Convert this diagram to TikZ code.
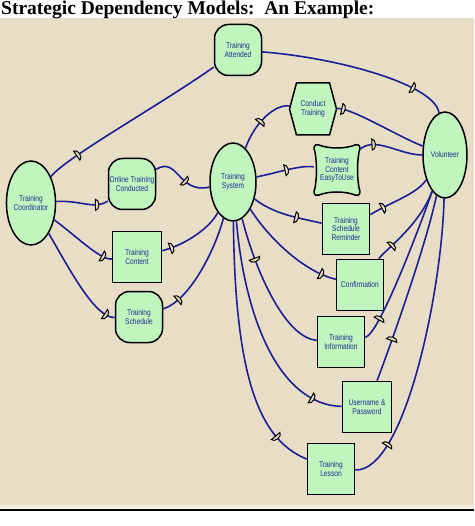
\documentclass[tikz,border=0pt]{standalone}
\usepackage{fontspec}
\usetikzlibrary{shapes.geometric,shapes.symbols,decorations.markings}
\newfontfamily\nodefont{Liberation Sans}[FakeStretch=0.8]
\newfontfamily\titlefont{Liberation Serif}
\definecolor{bg}{RGB}{232,221,197}
\definecolor{ngreen}{RGB}{192,245,190}
\definecolor{lblue}{RGB}{30,30,150}
\definecolor{tblue}{RGB}{30,45,140}
\begin{document}
\begin{tikzpicture}[x=1pt,y=-1pt,
  outl/.style={draw=black,line width=1.5pt,fill=ngreen},
  base/.style={outl,inner sep=0pt,align=center,
    font=\nodefont\fontsize{8.3}{8.8}\selectfont,text=tblue},
  actor/.style={base,ellipse},
  goal/.style={base,rectangle,rounded corners=14pt,minimum width=47pt,minimum height=51pt},
  resource/.style={base,rectangle,minimum width=47pt,minimum height=51pt},
  task/.style={base,signal,signal to=east and west,signal pointer angle=150,minimum width=47pt,minimum height=52pt},
  softtext/.style={base,draw=none,fill=none,rectangle,minimum width=45pt,minimum height=50pt},
  dep/.style={draw=lblue,line width=1.6pt},
  dmk/.style={draw=black,fill=bg,line width=1pt},
  dm/.style={postaction={decorate,decoration={markings,mark=at position #1 with {\draw[dmk] (0pt,-5.5pt) -- (0pt,5.5pt) arc[start angle=90,end angle=-90,x radius=3.5pt,y radius=5.5pt] -- cycle;}}}}
]
\useasboundingbox (0,0) rectangle (474,526);
\fill[white] (0,0) rectangle (474,526);
\fill[bg] (0,18) rectangle (474,505);
\fill[bg!50!white] (0,505) rectangle (474,508);
\draw[black,line width=2pt] (0,510) -- (474,510);
\node[anchor=base west,inner sep=0pt,font=\titlefont\bfseries\fontsize{19.5}{21}\selectfont] (title) at (1,15) {Strategic Dependency Models:\ \ An Example:};

% softgoal outline
\begin{scope}[shift={(337,170)}]
\draw[outl] (-18,-25) .. controls (-8,-21) and (8,-21) .. (18,-25)
  .. controls (23,-27) and (24,-22) .. (22,-18)
  .. controls (20,-6) and (20,6) .. (22,18)
  .. controls (24,22) and (23,27) .. (18,25)
  .. controls (8,21) and (-8,21) .. (-18,25)
  .. controls (-23,27) and (-24,22) .. (-22,18)
  .. controls (-20,6) and (-20,-6) .. (-22,-18)
  .. controls (-24,-22) and (-23,-27) .. (-18,-25) -- cycle;
\end{scope}

% nodes
\node[actor,minimum width=48pt,minimum height=84pt] (tc) at (31,203) {Training\\Coordinator};
\node[actor,minimum width=46pt,minimum height=78pt] (ts) at (233,182) {Training\\System};
\node[actor,minimum width=44pt,minimum height=86pt] (vol) at (445,155) {Volunteer};
\node[goal] (ta) at (238,50) {Training\\Attended};
\node[goal] (otc) at (132,184) {Online Training\\Conducted};
\node[resource,minimum width=49pt] (tcont) at (137,257) {Training\\Content};
\node[goal] (tsch) at (139,317) {Training\\Schedule};
\node[task] (ct) at (313,109) {Conduct\\Training};
\node[softtext] (tce) at (337,170) {Training\\Content\\EasyToUse};
\node[resource] (tsr) at (346,229) {Training\\Schedule\\Reminder};
\node[resource] (conf) at (360,285) {Confirmation};
\node[resource] (ti) at (341,342) {Training\\Information};
\node[resource,minimum width=49pt] (up) at (367,407) {Username \&\\Password};
\node[resource] (tl) at (331,469) {Training\\Lesson};

% dependencies
\draw[dep,dm=0.17] (tc) .. controls (65,158) and (160,105) .. (ta);
\draw[dep,dm=0.8] (ta) .. controls (340,58) and (435,85) .. (vol);
\draw[dep,dm=0.75] (tc) .. controls (80,200) and (95,210) .. (otc);
\draw[dep,dm=0.55] (otc) .. controls (178,156) and (178,194) .. (ts);
\draw[dep,dm=0.85] (tc) .. controls (75,235) and (100,260) .. (tcont);
\draw[dep,dm=0.12] (tcont) .. controls (185,245) and (210,228) .. (ts);
\draw[dep,dm=0.9] (tc) .. controls (70,270) and (95,318) .. (tsch);
\draw[dep,dm=0.15] (tsch) .. controls (190,300) and (215,250) .. (ts);
\draw[dep,dm=0.45] (ts) .. controls (255,122) and (275,104) .. (ct);
\draw[dep,dm=0.05] (ct) .. controls (352,108) and (395,135) .. (vol);
\draw[dep,dm=0.5] (ts) .. controls (280,172) and (300,165) .. (tce);
\draw[dep,dm=0.2] (tce) .. controls (375,136) and (400,155) .. (vol);
\draw[dep,dm=0.62] (ts) .. controls (275,215) and (300,218) .. (tsr);
\draw[dep,dm=0.2] (tsr) .. controls (395,200) and (415,195) .. (vol);
\draw[dep,dm=0.85] (ts) .. controls (270,240) and (305,272) .. (conf);
\draw[dep,dm=0.2] (conf) .. controls (385,250) and (420,225) .. (vol);
\draw[dep,dm=0.28] (ts) .. controls (255,270) and (285,338) .. (ti);
\draw[dep,dm=0.14] (ti) .. controls (378,335) and (415,240) .. (vol);
\draw[dep,dm=0.86] (ts) .. controls (245,320) and (280,405) .. (up);
\draw[dep,dm=0.22] (up) .. controls (385,360) and (425,250) .. (vol);
\draw[dep,dm=0.85] (ts) .. controls (235,380) and (260,440) .. (tl);
\draw[dep,dm=0.14] (tl) .. controls (405,472) and (442,290) .. (vol);
\end{tikzpicture}
\end{document}
